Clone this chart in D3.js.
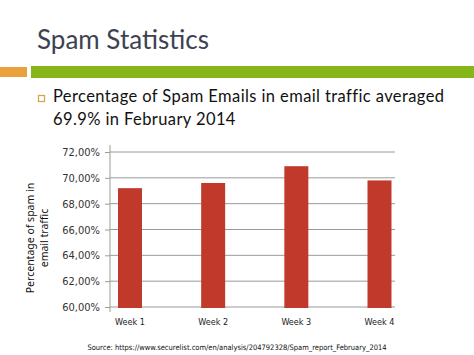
<!DOCTYPE html>
<html><head><meta charset="utf-8">
<script src="https://cdn.jsdelivr.net/npm/d3@7"></script>
<style>body{margin:0;background:#fff}svg{display:block}</style>
</head><body>
<script>
const weeks = ["Week 1","Week 2","Week 3","Week 4"];
const spamPct = [69.2, 69.6, 70.9, 69.8];
const yTicks = [60,62,64,66,68,70,72];

const W=474,H=355;
const svg=d3.select("body").append("svg").attr("width",W).attr("height",H);

// header
svg.append("text").attr("x",37).attr("y",49).text("Spam Statistics")
  .attr("font-family","Lato, 'Noto Sans', sans-serif").attr("font-size",26).attr("fill","#3d4252");
svg.append("rect").attr("x",0).attr("y",67).attr("width",27).attr("height",10).attr("fill","#e9a23b");
svg.append("rect").attr("x",31).attr("y",66).attr("width",W-31).attr("height",12).attr("fill","#86b618");

// bullet
svg.append("rect").attr("x",38.5).attr("y",95.5).attr("width",6).attr("height",6)
  .attr("fill","none").attr("stroke","#d4a24a").attr("stroke-width",1.2);
const bt=svg.append("g").attr("font-family","Lato, 'Noto Sans', sans-serif").attr("font-size",16.5)
  .attr("letter-spacing",0.4).attr("fill","#111");
bt.append("text").attr("x",53).attr("y",102).text("Percentage of Spam Emails in email traffic averaged");
bt.append("text").attr("x",53).attr("y",125).text("69.9% in February 2014");

// chart
const y=d3.scaleLinear().domain([60,72]).range([307,152]);
const x=d3.scalePoint().domain(weeks).range([130,379.5]);
const axisX=110, gridEnd=395;
const g=svg.append("g");
const narrow="'Liberation Sans Narrow','DejaVu Sans Condensed',sans-serif";

g.selectAll(".grid").data(yTicks).join("line")
  .attr("x1",axisX).attr("x2",gridEnd).attr("y1",d=>y(d)).attr("y2",d=>y(d))
  .attr("stroke","#9a9a9a").attr("stroke-width",1);

g.append("g").attr("transform",`translate(${axisX},0)`)
  .call(d3.axisLeft(y).tickValues(yTicks).tickSize(5).tickPadding(5)
     .tickFormat(d=>d3.format(".2f")(d).replace(".",",")+"%"))
  .call(a=>{a.select(".domain").remove();
    a.selectAll("line").attr("stroke","#9a9a9a");
    a.selectAll("text").attr("font-family",narrow).attr("font-size",11).attr("fill","#333");});
g.append("line").attr("x1",axisX).attr("x2",axisX).attr("y1",145).attr("y2",312).attr("stroke","#9a9a9a");

const bw=24;
g.selectAll(".bar").data(weeks).join("rect")
  .attr("x",d=>x(d)-bw/2).attr("width",bw)
  .attr("y",(d,i)=>y(spamPct[i])).attr("height",(d,i)=>y(60)-y(spamPct[i])+1)
  .attr("fill","#c0392b");

g.selectAll(".wl").data(weeks).join("text")
  .attr("x",d=>x(d)).attr("y",325).attr("text-anchor","middle")
  .attr("font-family",narrow).attr("font-size",9).attr("fill","#222").text(d=>d);

const yt=svg.append("g").attr("transform","translate(34,238) rotate(-90)")
  .attr("font-family","'Noto Sans', sans-serif").attr("font-size",10.5).attr("fill","#111").attr("text-anchor","middle");
yt.append("text").attr("x",0).attr("y",0).text("Percentage of spam in");
yt.append("text").attr("x",0).attr("y",14).text("email traffic");

svg.append("text").attr("x",237).attr("y",350).attr("text-anchor","middle")
  .attr("font-family",narrow).attr("font-size",7.5).attr("fill","#111")
  .text("Source: https://www.securelist.com/en/analysis/204792328/Spam_report_February_2014");
</script>
</body></html>
